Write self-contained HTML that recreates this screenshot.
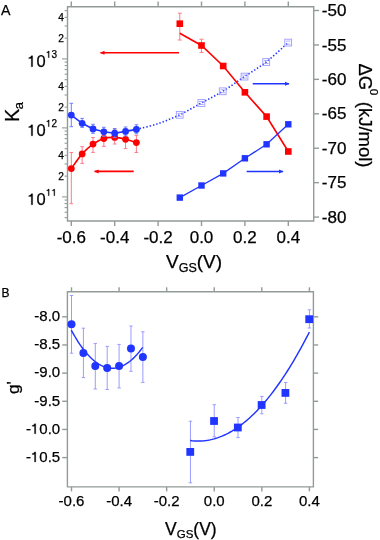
<!DOCTYPE html>
<html><head><meta charset="utf-8"><style>
html,body{margin:0;padding:0;background:#fff;width:380px;height:540px;overflow:hidden}
svg{display:block;will-change:transform}
text{font-family:"Liberation Sans",sans-serif;fill:#000;stroke:#000;stroke-width:0.25px}
</style></head><body>
<svg width="380" height="540" viewBox="0 0 380 540">
<rect width="380" height="540" fill="#fff"/>
<path d="M67.5,6.8H313.7V221.0H67.5Z" fill="none" stroke="#939b97" stroke-width="1.4"/>
<line x1="71.30" y1="221.0" x2="71.30" y2="226.0" stroke="#939b97" stroke-width="1.4"/>
<line x1="71.30" y1="1.5" x2="71.30" y2="6.8" stroke="#939b97" stroke-width="1.4"/>
<text x="71.30" y="243.2" font-size="17" text-anchor="middle">-0.6</text>
<line x1="114.70" y1="221.0" x2="114.70" y2="226.0" stroke="#939b97" stroke-width="1.4"/>
<line x1="114.70" y1="1.5" x2="114.70" y2="6.8" stroke="#939b97" stroke-width="1.4"/>
<text x="114.70" y="243.2" font-size="17" text-anchor="middle">-0.4</text>
<line x1="158.10" y1="221.0" x2="158.10" y2="226.0" stroke="#939b97" stroke-width="1.4"/>
<line x1="158.10" y1="1.5" x2="158.10" y2="6.8" stroke="#939b97" stroke-width="1.4"/>
<text x="158.10" y="243.2" font-size="17" text-anchor="middle">-0.2</text>
<line x1="201.50" y1="221.0" x2="201.50" y2="226.0" stroke="#939b97" stroke-width="1.4"/>
<line x1="201.50" y1="1.5" x2="201.50" y2="6.8" stroke="#939b97" stroke-width="1.4"/>
<text x="201.50" y="243.2" font-size="17" text-anchor="middle">0.0</text>
<line x1="244.90" y1="221.0" x2="244.90" y2="226.0" stroke="#939b97" stroke-width="1.4"/>
<line x1="244.90" y1="1.5" x2="244.90" y2="6.8" stroke="#939b97" stroke-width="1.4"/>
<text x="244.90" y="243.2" font-size="17" text-anchor="middle">0.2</text>
<line x1="288.30" y1="221.0" x2="288.30" y2="226.0" stroke="#939b97" stroke-width="1.4"/>
<line x1="288.30" y1="1.5" x2="288.30" y2="6.8" stroke="#939b97" stroke-width="1.4"/>
<text x="288.30" y="243.2" font-size="17" text-anchor="middle">0.4</text>
<line x1="313.7" y1="10.50" x2="319.0" y2="10.50" stroke="#939b97" stroke-width="1.4"/>
<text x="321.8" y="16.10" font-size="17">-50</text>
<line x1="313.7" y1="44.93" x2="319.0" y2="44.93" stroke="#939b97" stroke-width="1.4"/>
<text x="321.8" y="50.53" font-size="17">-55</text>
<line x1="313.7" y1="79.36" x2="319.0" y2="79.36" stroke="#939b97" stroke-width="1.4"/>
<text x="321.8" y="84.96" font-size="17">-60</text>
<line x1="313.7" y1="113.79" x2="319.0" y2="113.79" stroke="#939b97" stroke-width="1.4"/>
<text x="321.8" y="119.39" font-size="17">-65</text>
<line x1="313.7" y1="148.22" x2="319.0" y2="148.22" stroke="#939b97" stroke-width="1.4"/>
<text x="321.8" y="153.82" font-size="17">-70</text>
<line x1="313.7" y1="182.65" x2="319.0" y2="182.65" stroke="#939b97" stroke-width="1.4"/>
<text x="321.8" y="188.25" font-size="17">-75</text>
<line x1="313.7" y1="217.08" x2="319.0" y2="217.08" stroke="#939b97" stroke-width="1.4"/>
<text x="321.8" y="222.68" font-size="17">-80</text>
<line x1="64.6" y1="217.67" x2="67.5" y2="217.67" stroke="#939b97" stroke-width="1.1"/>
<line x1="64.6" y1="212.21" x2="67.5" y2="212.21" stroke="#939b97" stroke-width="1.1"/>
<line x1="64.6" y1="207.59" x2="67.5" y2="207.59" stroke="#939b97" stroke-width="1.1"/>
<line x1="64.6" y1="203.59" x2="67.5" y2="203.59" stroke="#939b97" stroke-width="1.1"/>
<line x1="64.6" y1="200.06" x2="67.5" y2="200.06" stroke="#939b97" stroke-width="1.1"/>
<line x1="62.0" y1="196.90" x2="67.5" y2="196.90" stroke="#939b97" stroke-width="1.1"/>
<path transform="translate(27.45,204.80) scale(16.5,-16.5)" d="M0.232,0.668L0.316,0.668L0.316,0L0.232,0L0.232,0.50L0.075,0.50L0.075,0.553Q0.215,0.565,0.232,0.668Z" fill="#000" stroke="#000" stroke-width="0.0152"/>
<text x="36.62" y="204.80" font-size="16.5">0</text>
<path transform="translate(46.00,195.70) scale(10,-10)" d="M0.232,0.668L0.316,0.668L0.316,0L0.232,0L0.232,0.50L0.075,0.50L0.075,0.553Q0.215,0.565,0.232,0.668Z" fill="#000" stroke="#000" stroke-width="0.0250"/>
<path transform="translate(51.56,195.70) scale(10,-10)" d="M0.232,0.668L0.316,0.668L0.316,0L0.232,0L0.232,0.50L0.075,0.50L0.075,0.553Q0.215,0.565,0.232,0.668Z" fill="#000" stroke="#000" stroke-width="0.0250"/>
<line x1="64.6" y1="176.13" x2="67.5" y2="176.13" stroke="#939b97" stroke-width="1.1"/>
<text x="63.9" y="179.53" font-size="10.2" text-anchor="end" stroke="#000" stroke-width="0.2">2</text>
<line x1="64.6" y1="163.98" x2="67.5" y2="163.98" stroke="#939b97" stroke-width="1.1"/>
<line x1="64.6" y1="155.36" x2="67.5" y2="155.36" stroke="#939b97" stroke-width="1.1"/>
<text x="63.9" y="158.76" font-size="10.2" text-anchor="end" stroke="#000" stroke-width="0.2">4</text>
<line x1="64.6" y1="148.67" x2="67.5" y2="148.67" stroke="#939b97" stroke-width="1.1"/>
<line x1="64.6" y1="143.21" x2="67.5" y2="143.21" stroke="#939b97" stroke-width="1.1"/>
<line x1="64.6" y1="138.59" x2="67.5" y2="138.59" stroke="#939b97" stroke-width="1.1"/>
<line x1="64.6" y1="134.59" x2="67.5" y2="134.59" stroke="#939b97" stroke-width="1.1"/>
<line x1="64.6" y1="131.06" x2="67.5" y2="131.06" stroke="#939b97" stroke-width="1.1"/>
<line x1="62.0" y1="127.90" x2="67.5" y2="127.90" stroke="#939b97" stroke-width="1.1"/>
<path transform="translate(27.45,135.80) scale(16.5,-16.5)" d="M0.232,0.668L0.316,0.668L0.316,0L0.232,0L0.232,0.50L0.075,0.50L0.075,0.553Q0.215,0.565,0.232,0.668Z" fill="#000" stroke="#000" stroke-width="0.0152"/>
<text x="36.62" y="135.80" font-size="16.5">0</text>
<path transform="translate(46.00,126.70) scale(10,-10)" d="M0.232,0.668L0.316,0.668L0.316,0L0.232,0L0.232,0.50L0.075,0.50L0.075,0.553Q0.215,0.565,0.232,0.668Z" fill="#000" stroke="#000" stroke-width="0.0250"/>
<text x="51.56" y="126.70" font-size="10">2</text>
<line x1="64.6" y1="107.13" x2="67.5" y2="107.13" stroke="#939b97" stroke-width="1.1"/>
<text x="63.9" y="110.53" font-size="10.2" text-anchor="end" stroke="#000" stroke-width="0.2">2</text>
<line x1="64.6" y1="94.98" x2="67.5" y2="94.98" stroke="#939b97" stroke-width="1.1"/>
<line x1="64.6" y1="86.36" x2="67.5" y2="86.36" stroke="#939b97" stroke-width="1.1"/>
<text x="63.9" y="89.76" font-size="10.2" text-anchor="end" stroke="#000" stroke-width="0.2">4</text>
<line x1="64.6" y1="79.67" x2="67.5" y2="79.67" stroke="#939b97" stroke-width="1.1"/>
<line x1="64.6" y1="74.21" x2="67.5" y2="74.21" stroke="#939b97" stroke-width="1.1"/>
<line x1="64.6" y1="69.59" x2="67.5" y2="69.59" stroke="#939b97" stroke-width="1.1"/>
<line x1="64.6" y1="65.59" x2="67.5" y2="65.59" stroke="#939b97" stroke-width="1.1"/>
<line x1="64.6" y1="62.06" x2="67.5" y2="62.06" stroke="#939b97" stroke-width="1.1"/>
<line x1="62.0" y1="58.90" x2="67.5" y2="58.90" stroke="#939b97" stroke-width="1.1"/>
<path transform="translate(27.45,66.80) scale(16.5,-16.5)" d="M0.232,0.668L0.316,0.668L0.316,0L0.232,0L0.232,0.50L0.075,0.50L0.075,0.553Q0.215,0.565,0.232,0.668Z" fill="#000" stroke="#000" stroke-width="0.0152"/>
<text x="36.62" y="66.80" font-size="16.5">0</text>
<path transform="translate(46.00,57.70) scale(10,-10)" d="M0.232,0.668L0.316,0.668L0.316,0L0.232,0L0.232,0.50L0.075,0.50L0.075,0.553Q0.215,0.565,0.232,0.668Z" fill="#000" stroke="#000" stroke-width="0.0250"/>
<text x="51.56" y="57.70" font-size="10">3</text>
<line x1="64.6" y1="38.13" x2="67.5" y2="38.13" stroke="#939b97" stroke-width="1.1"/>
<text x="63.9" y="41.53" font-size="10.2" text-anchor="end" stroke="#000" stroke-width="0.2">2</text>
<line x1="64.6" y1="25.98" x2="67.5" y2="25.98" stroke="#939b97" stroke-width="1.1"/>
<line x1="64.6" y1="17.36" x2="67.5" y2="17.36" stroke="#939b97" stroke-width="1.1"/>
<text x="63.9" y="20.76" font-size="10.2" text-anchor="end" stroke="#000" stroke-width="0.2">4</text>
<line x1="64.6" y1="10.67" x2="67.5" y2="10.67" stroke="#939b97" stroke-width="1.1"/>
<text transform="translate(19.3,122) rotate(-90)" font-size="20">K<tspan font-size="13" dy="3.8" dx="-0.5">a</tspan></text>
<text transform="translate(358.8,63.5) rotate(90)" font-size="18.5">ΔG<tspan font-size="11.8" dy="-11.3" dx="-1.6">0</tspan><tspan dy="11.3" dx="1.4"> (kJ/mol)</tspan></text>
<text x="166" y="267.8" font-size="19">V<tspan font-size="12.5" dy="4.4">GS</tspan><tspan dy="-4.4">(V)</tspan></text>
<text x="0.9" y="15" font-size="14.2">A</text>
<path d="M136.4,129.4 C140.00,128.45 150.78,126.13 158.00,123.70 C165.22,121.27 172.47,118.25 179.70,114.80 C186.93,111.35 194.23,106.92 201.40,103.00 C208.57,99.08 215.52,95.70 222.70,91.30 C229.88,86.90 237.25,81.48 244.50,76.60 C251.75,71.72 258.92,67.67 266.20,62.00 C273.48,56.33 284.53,45.83 288.20,42.60" fill="none" stroke="#2035ff" stroke-width="1.6" stroke-dasharray="1.4 2" />
<rect x="176.30" y="111.40" width="6.8" height="6.8" fill="none" stroke="#9c9cff" stroke-width="0.9"/>
<path d="M177.30,113.30h4.8M177.30,116.30h4.8" stroke="#9c9cff" stroke-width="0.8"/>
<rect x="198.00" y="99.60" width="6.8" height="6.8" fill="none" stroke="#9c9cff" stroke-width="0.9"/>
<path d="M199.00,101.50h4.8M199.00,104.50h4.8" stroke="#9c9cff" stroke-width="0.8"/>
<rect x="219.30" y="87.90" width="6.8" height="6.8" fill="none" stroke="#9c9cff" stroke-width="0.9"/>
<path d="M220.30,89.80h4.8M220.30,92.80h4.8" stroke="#9c9cff" stroke-width="0.8"/>
<rect x="241.10" y="73.20" width="6.8" height="6.8" fill="none" stroke="#9c9cff" stroke-width="0.9"/>
<path d="M242.10,75.10h4.8M242.10,78.10h4.8" stroke="#9c9cff" stroke-width="0.8"/>
<rect x="262.80" y="58.60" width="6.8" height="6.8" fill="none" stroke="#9c9cff" stroke-width="0.9"/>
<path d="M263.80,60.50h4.8M263.80,63.50h4.8" stroke="#9c9cff" stroke-width="0.8"/>
<rect x="284.80" y="39.20" width="6.8" height="6.8" fill="none" stroke="#9c9cff" stroke-width="0.9"/>
<path d="M285.80,41.10h4.8M285.80,44.10h4.8" stroke="#9c9cff" stroke-width="0.8"/>
<path d="M71.30,152.50V203.70M69.50,152.50h3.6M69.50,203.70h3.6" stroke="#ff7a88" stroke-width="1" fill="none" opacity="1"/>
<path d="M82.15,146.70V163.40M80.35,146.70h3.6M80.35,163.40h3.6" stroke="#ff7a88" stroke-width="1" fill="none" opacity="1"/>
<path d="M93.00,137.50V152.40M91.20,137.50h3.6M91.20,152.40h3.6" stroke="#ff7a88" stroke-width="1" fill="none" opacity="1"/>
<path d="M103.85,131.00V146.30M102.05,131.00h3.6M102.05,146.30h3.6" stroke="#ff7a88" stroke-width="1" fill="none" opacity="1"/>
<path d="M114.70,129.40V144.00M112.90,129.40h3.6M112.90,144.00h3.6" stroke="#ff7a88" stroke-width="1" fill="none" opacity="1"/>
<path d="M125.55,131.50V148.60M123.75,131.50h3.6M123.75,148.60h3.6" stroke="#ff7a88" stroke-width="1" fill="none" opacity="1"/>
<path d="M136.40,135.40V152.50M134.60,135.40h3.6M134.60,152.50h3.6" stroke="#ff7a88" stroke-width="1" fill="none" opacity="1"/>
<path d="M71.3,168.6 C73.11,166.15 78.53,157.98 82.15,153.90 C85.77,149.82 89.38,146.67 93.00,144.10 C96.62,141.53 100.23,139.62 103.85,138.50 C107.47,137.38 111.08,137.27 114.70,137.40 C118.32,137.53 121.93,138.43 125.55,139.30 C129.17,140.17 134.59,142.05 136.40,142.60" fill="none" stroke="#ff0000" stroke-width="1.6"/>
<circle cx="71.30" cy="168.60" r="3.4" fill="#ff0000"/>
<circle cx="82.15" cy="153.90" r="3.4" fill="#ff0000"/>
<circle cx="93.00" cy="144.10" r="3.4" fill="#ff0000"/>
<circle cx="103.85" cy="138.50" r="3.4" fill="#ff0000"/>
<circle cx="114.70" cy="137.40" r="3.4" fill="#ff0000"/>
<circle cx="125.55" cy="139.30" r="3.4" fill="#ff0000"/>
<circle cx="136.40" cy="142.60" r="3.4" fill="#ff0000"/>
<path d="M71.30,103.30V126.70M69.50,103.30h3.6M69.50,126.70h3.6" stroke="#6f7dff" stroke-width="1" fill="none" opacity="1"/>
<path d="M82.15,118.40V127.40M80.35,118.40h3.6M80.35,127.40h3.6" stroke="#6f7dff" stroke-width="1" fill="none" opacity="1"/>
<path d="M93.00,124.30V133.30M91.20,124.30h3.6M91.20,133.30h3.6" stroke="#6f7dff" stroke-width="1" fill="none" opacity="1"/>
<path d="M103.85,127.30V136.30M102.05,127.30h3.6M102.05,136.30h3.6" stroke="#6f7dff" stroke-width="1" fill="none" opacity="1"/>
<path d="M114.70,128.50V137.50M112.90,128.50h3.6M112.90,137.50h3.6" stroke="#6f7dff" stroke-width="1" fill="none" opacity="1"/>
<path d="M125.55,127.00V135.80M123.75,127.00h3.6M123.75,135.80h3.6" stroke="#6f7dff" stroke-width="1" fill="none" opacity="1"/>
<path d="M136.40,124.80V133.80M134.60,124.80h3.6M134.60,133.80h3.6" stroke="#6f7dff" stroke-width="1" fill="none" opacity="1"/>
<polyline points="71.30,115.1 82.15,123.3 93.00,128.9 103.85,131.8 114.70,133.2 125.55,131.4 136.40,129.4" fill="none" stroke="#2035ff" stroke-width="1.6"/>
<circle cx="71.30" cy="115.10" r="3.4" fill="#2035ff"/>
<circle cx="82.15" cy="123.30" r="3.4" fill="#2035ff"/>
<circle cx="93.00" cy="128.90" r="3.4" fill="#2035ff"/>
<circle cx="103.85" cy="131.80" r="3.4" fill="#2035ff"/>
<circle cx="114.70" cy="133.20" r="3.4" fill="#2035ff"/>
<circle cx="125.55" cy="131.40" r="3.4" fill="#2035ff"/>
<circle cx="136.40" cy="129.40" r="3.4" fill="#2035ff"/>
<path d="M179.80,13.20V40.00M177.80,13.20h4.0M177.80,40.00h4.0" stroke="#ff7a88" stroke-width="1" fill="none" opacity="1"/>
<path d="M201.50,39.20V52.40M199.50,39.20h4.0M199.50,52.40h4.0" stroke="#ff7a88" stroke-width="1" fill="none" opacity="1"/>
<polyline points="179.80,33.2 201.50,45.5 223.20,66.0 244.90,92.3 266.60,116.6 288.30,151.5" fill="none" stroke="#ff0000" stroke-width="1.6"/>
<rect x="176.50" y="20.40" width="6.6" height="6.6" fill="#ff0000"/>
<rect x="198.20" y="42.20" width="6.6" height="6.6" fill="#ff0000"/>
<rect x="219.90" y="62.70" width="6.6" height="6.6" fill="#ff0000"/>
<rect x="241.60" y="89.00" width="6.6" height="6.6" fill="#ff0000"/>
<rect x="263.30" y="113.30" width="6.6" height="6.6" fill="#ff0000"/>
<rect x="285.00" y="148.20" width="6.6" height="6.6" fill="#ff0000"/>
<polyline points="179.80,197.6 201.50,185.5 223.20,173.4 244.90,158.3 266.60,144.3 288.30,124.3" fill="none" stroke="#2035ff" stroke-width="1.3"/>
<rect x="176.60" y="194.40" width="6.4" height="6.4" fill="#2035ff"/>
<rect x="198.30" y="182.30" width="6.4" height="6.4" fill="#2035ff"/>
<rect x="220.00" y="170.20" width="6.4" height="6.4" fill="#2035ff"/>
<rect x="241.70" y="155.10" width="6.4" height="6.4" fill="#2035ff"/>
<rect x="263.40" y="141.10" width="6.4" height="6.4" fill="#2035ff"/>
<rect x="285.10" y="121.10" width="6.4" height="6.4" fill="#2035ff"/>
<line x1="100.5" y1="52.8" x2="179" y2="52.8" stroke="#ff0000" stroke-width="1.6"/>
<path d="M100.0,52.8L104.5,50.8L104.5,54.8Z" fill="#ff0000"/>
<line x1="94.6" y1="171.4" x2="133.7" y2="171.4" stroke="#ff0000" stroke-width="1.6"/>
<path d="M94.1,171.4L98.6,169.4L98.6,173.4Z" fill="#ff0000"/>
<line x1="252.7" y1="83.8" x2="289" y2="83.8" stroke="#2035ff" stroke-width="1.6"/>
<path d="M289.5,83.8L285,81.8L285,85.8Z" fill="#2035ff"/>
<line x1="246.6" y1="171.5" x2="283" y2="171.5" stroke="#2035ff" stroke-width="1.6"/>
<path d="M283.5,171.5L279,169.5L279,173.5Z" fill="#2035ff"/>
<path d="M67.4,291.8H313.4V486.9H67.4Z" fill="none" stroke="#939b97" stroke-width="1.4"/>
<line x1="71.50" y1="486.9" x2="71.50" y2="491.4" stroke="#939b97" stroke-width="1.4"/>
<line x1="71.50" y1="287.3" x2="71.50" y2="291.8" stroke="#939b97" stroke-width="1.4"/>
<text x="71.50" y="505.8" font-size="15" text-anchor="middle">-0.6</text>
<line x1="119.08" y1="486.9" x2="119.08" y2="491.4" stroke="#939b97" stroke-width="1.4"/>
<line x1="119.08" y1="287.3" x2="119.08" y2="291.8" stroke="#939b97" stroke-width="1.4"/>
<text x="119.08" y="505.8" font-size="15" text-anchor="middle">-0.4</text>
<line x1="166.66" y1="486.9" x2="166.66" y2="491.4" stroke="#939b97" stroke-width="1.4"/>
<line x1="166.66" y1="287.3" x2="166.66" y2="291.8" stroke="#939b97" stroke-width="1.4"/>
<text x="166.66" y="505.8" font-size="15" text-anchor="middle">-0.2</text>
<line x1="214.24" y1="486.9" x2="214.24" y2="491.4" stroke="#939b97" stroke-width="1.4"/>
<line x1="214.24" y1="287.3" x2="214.24" y2="291.8" stroke="#939b97" stroke-width="1.4"/>
<text x="214.24" y="505.8" font-size="15" text-anchor="middle">0.0</text>
<line x1="261.82" y1="486.9" x2="261.82" y2="491.4" stroke="#939b97" stroke-width="1.4"/>
<line x1="261.82" y1="287.3" x2="261.82" y2="291.8" stroke="#939b97" stroke-width="1.4"/>
<text x="261.82" y="505.8" font-size="15" text-anchor="middle">0.2</text>
<line x1="309.40" y1="486.9" x2="309.40" y2="491.4" stroke="#939b97" stroke-width="1.4"/>
<line x1="309.40" y1="287.3" x2="309.40" y2="291.8" stroke="#939b97" stroke-width="1.4"/>
<text x="309.40" y="505.8" font-size="15" text-anchor="middle">0.4</text>
<line x1="62.2" y1="316.80" x2="67.4" y2="316.80" stroke="#939b97" stroke-width="1.4"/>
<line x1="313.4" y1="316.80" x2="318.2" y2="316.80" stroke="#939b97" stroke-width="1.4"/>
<text x="34.35" y="321.10" font-size="15">-8.0</text>
<line x1="62.2" y1="344.96" x2="67.4" y2="344.96" stroke="#939b97" stroke-width="1.4"/>
<line x1="313.4" y1="344.96" x2="318.2" y2="344.96" stroke="#939b97" stroke-width="1.4"/>
<text x="34.35" y="349.26" font-size="15">-8.5</text>
<line x1="62.2" y1="373.12" x2="67.4" y2="373.12" stroke="#939b97" stroke-width="1.4"/>
<line x1="313.4" y1="373.12" x2="318.2" y2="373.12" stroke="#939b97" stroke-width="1.4"/>
<text x="34.35" y="377.42" font-size="15">-9.0</text>
<line x1="62.2" y1="401.28" x2="67.4" y2="401.28" stroke="#939b97" stroke-width="1.4"/>
<line x1="313.4" y1="401.28" x2="318.2" y2="401.28" stroke="#939b97" stroke-width="1.4"/>
<text x="34.35" y="405.58" font-size="15">-9.5</text>
<line x1="62.2" y1="429.44" x2="67.4" y2="429.44" stroke="#939b97" stroke-width="1.4"/>
<line x1="313.4" y1="429.44" x2="318.2" y2="429.44" stroke="#939b97" stroke-width="1.4"/>
<text x="26.01" y="433.74" font-size="15">-</text>
<path transform="translate(31.01,433.74) scale(15,-15)" d="M0.232,0.668L0.316,0.668L0.316,0L0.232,0L0.232,0.50L0.075,0.50L0.075,0.553Q0.215,0.565,0.232,0.668Z" fill="#000" stroke="#000" stroke-width="0.0167"/>
<text x="39.35" y="433.74" font-size="15">0.0</text>
<line x1="62.2" y1="457.60" x2="67.4" y2="457.60" stroke="#939b97" stroke-width="1.4"/>
<line x1="313.4" y1="457.60" x2="318.2" y2="457.60" stroke="#939b97" stroke-width="1.4"/>
<text x="26.01" y="461.90" font-size="15">-</text>
<path transform="translate(31.01,461.90) scale(15,-15)" d="M0.232,0.668L0.316,0.668L0.316,0L0.232,0L0.232,0.50L0.075,0.50L0.075,0.553Q0.215,0.565,0.232,0.668Z" fill="#000" stroke="#000" stroke-width="0.0167"/>
<text x="39.35" y="461.90" font-size="15">0.5</text>
<text x="1.5" y="296.5" font-size="12">B</text>
<text transform="translate(18.6,394) rotate(-90)" font-size="17.3">g'</text>
<text x="165" y="534.6" font-size="17.5">V<tspan font-size="11.5" dy="3.4">GS</tspan><tspan dy="-3.4">(V)</tspan></text>
<path d="M71.50,295.50V353.20M69.80,295.50h3.4M69.80,353.20h3.4" stroke="#9c9cff" stroke-width="1" fill="none" opacity="1"/>
<path d="M83.40,328.20V377.60M81.70,328.20h3.4M81.70,377.60h3.4" stroke="#9c9cff" stroke-width="1" fill="none" opacity="1"/>
<path d="M95.29,343.40V389.00M93.59,343.40h3.4M93.59,389.00h3.4" stroke="#9c9cff" stroke-width="1" fill="none" opacity="1"/>
<path d="M107.19,346.40V389.50M105.48,346.40h3.4M105.48,389.50h3.4" stroke="#9c9cff" stroke-width="1" fill="none" opacity="1"/>
<path d="M119.08,344.40V387.90M117.38,344.40h3.4M117.38,387.90h3.4" stroke="#9c9cff" stroke-width="1" fill="none" opacity="1"/>
<path d="M130.97,326.00V371.30M129.28,326.00h3.4M129.28,371.30h3.4" stroke="#9c9cff" stroke-width="1" fill="none" opacity="1"/>
<path d="M142.87,331.80V382.40M141.17,331.80h3.4M141.17,382.40h3.4" stroke="#9c9cff" stroke-width="1" fill="none" opacity="1"/>
<polyline points="71.30,330.16 72.49,332.34 73.68,334.45 74.87,336.50 76.06,338.49 77.25,340.41 78.44,342.27 79.63,344.06 80.82,345.79 82.01,347.46 83.20,349.06 84.39,350.60 85.58,352.07 86.77,353.48 87.96,354.82 89.15,356.10 90.34,357.32 91.53,358.47 92.72,359.56 93.91,360.58 95.10,361.54 96.29,362.44 97.48,363.27 98.67,364.04 99.86,364.74 101.05,365.38 102.24,365.95 103.43,366.47 104.62,366.91 105.81,367.29 107.00,367.61 108.19,367.87 109.38,368.06 110.57,368.18 111.76,368.24 112.95,368.24 114.14,368.17 115.33,368.04 116.52,367.85 117.71,367.59 118.90,367.26 120.09,366.88 121.28,366.42 122.47,365.91 123.66,365.33 124.85,364.68 126.04,363.98 127.23,363.20 128.42,362.37 129.61,361.47 130.80,360.50 131.99,359.47 133.18,358.38 134.37,357.22 135.56,356.00 136.75,354.71 137.94,353.36 139.13,351.95 140.32,350.47 141.51,348.93 142.70,347.32" fill="none" stroke="#2035ff" stroke-width="1.45"/>
<circle cx="71.50" cy="324.30" r="4.0" fill="#2035ff"/>
<circle cx="83.40" cy="352.90" r="4.0" fill="#2035ff"/>
<circle cx="95.29" cy="366.10" r="4.0" fill="#2035ff"/>
<circle cx="107.19" cy="367.90" r="4.0" fill="#2035ff"/>
<circle cx="119.08" cy="366.10" r="4.0" fill="#2035ff"/>
<circle cx="130.97" cy="348.50" r="4.0" fill="#2035ff"/>
<circle cx="142.87" cy="357.00" r="4.0" fill="#2035ff"/>
<path d="M190.45,421.20V482.80M188.75,421.20h3.4M188.75,482.80h3.4" stroke="#9c9cff" stroke-width="1" fill="none" opacity="1"/>
<path d="M214.24,404.70V436.80M212.54,404.70h3.4M212.54,436.80h3.4" stroke="#9c9cff" stroke-width="1" fill="none" opacity="1"/>
<path d="M238.03,417.50V437.60M236.33,417.50h3.4M236.33,437.60h3.4" stroke="#9c9cff" stroke-width="1" fill="none" opacity="1"/>
<path d="M261.82,396.40V413.80M260.12,396.40h3.4M260.12,413.80h3.4" stroke="#9c9cff" stroke-width="1" fill="none" opacity="1"/>
<path d="M285.61,382.50V403.30M283.91,382.50h3.4M283.91,403.30h3.4" stroke="#9c9cff" stroke-width="1" fill="none" opacity="1"/>
<path d="M309.40,309.80V328.00M307.70,309.80h3.4M307.70,328.00h3.4" stroke="#9c9cff" stroke-width="1" fill="none" opacity="1"/>
<polyline points="190.20,440.48 192.19,440.73 194.17,440.91 196.16,441.02 198.15,441.07 200.13,441.04 202.12,440.95 204.11,440.78 206.09,440.54 208.08,440.24 210.07,439.86 212.05,439.42 214.04,438.90 216.03,438.32 218.01,437.66 220.00,436.94 221.99,436.14 223.97,435.28 225.96,434.34 227.95,433.34 229.93,432.26 231.92,431.12 233.91,429.91 235.89,428.62 237.88,427.27 239.87,425.85 241.85,424.35 243.84,422.79 245.83,421.16 247.81,419.45 249.80,417.68 251.79,415.84 253.77,413.93 255.76,411.95 257.75,409.89 259.73,407.77 261.72,405.58 263.71,403.32 265.69,400.99 267.68,398.59 269.67,396.12 271.65,393.58 273.64,390.97 275.63,388.28 277.61,385.53 279.60,382.71 281.59,379.82 283.57,376.87 285.56,373.84 287.55,370.74 289.53,367.57 291.52,364.33 293.51,361.02 295.49,357.64 297.48,354.19 299.47,350.67 301.45,347.09 303.44,343.43 305.43,339.70 307.41,335.90 309.40,332.03" fill="none" stroke="#2035ff" stroke-width="1.45"/>
<rect x="186.35" y="448.00" width="7.8" height="7.8" fill="#2035ff"/>
<rect x="210.14" y="417.10" width="7.8" height="7.8" fill="#2035ff"/>
<rect x="233.93" y="423.60" width="7.8" height="7.8" fill="#2035ff"/>
<rect x="257.72" y="401.10" width="7.8" height="7.8" fill="#2035ff"/>
<rect x="281.51" y="389.00" width="7.8" height="7.8" fill="#2035ff"/>
<rect x="305.30" y="315.30" width="7.8" height="7.8" fill="#2035ff"/>
</svg>
</body></html>
